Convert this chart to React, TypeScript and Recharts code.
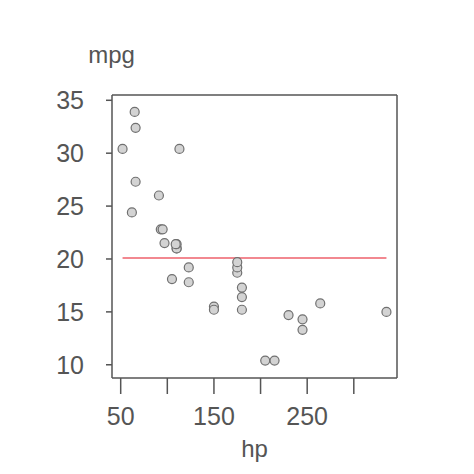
import React from 'react';
import { ScatterChart, Scatter, XAxis, YAxis, ReferenceLine } from 'recharts';

// mtcars: horsepower vs miles per gallon
const hp = [110, 110, 93, 110, 175, 105, 245, 62, 95, 123, 123, 180, 180, 180, 205, 215, 230, 66, 52, 65, 97, 150, 150, 245, 175, 66, 91, 113, 264, 175, 335, 109];
const mpg = [21.0, 21.0, 22.8, 21.4, 18.7, 18.1, 14.3, 24.4, 22.8, 19.2, 17.8, 16.4, 17.3, 15.2, 10.4, 10.4, 14.7, 32.4, 30.4, 33.9, 21.5, 15.5, 15.2, 13.3, 19.2, 27.3, 26.0, 30.4, 15.8, 19.7, 15.0, 21.4];
const xTicks = [50, 100, 150, 200, 250, 300];
const xLabelled = [50, 150, 250];
const yTicks = [10, 15, 20, 25, 30, 35];

const points = hp.map((h, i) => ({ hp: h, mpg: mpg[i] }));
const meanMpg = mpg.reduce((a, b) => a + b, 0) / mpg.length;

const axisColor = '#555555';
const textColor = '#555555';
const font = 'Liberation Sans, Arial, sans-serif';

const Dot = (props: any) => (
  <circle cx={props.cx} cy={props.cy} r={4.5} fill="#d3d3d3" stroke="#707070" strokeWidth={1.2} />
);

export default function App() {
  return (
    <div style={{ position: 'absolute', left: 0, top: 0, width: 474, height: 474, background: '#fff' }}>
      <ScatterChart width={474} height={474} margin={{ top: 94, right: 76, bottom: 0, left: 0 }}>
        <XAxis
          xAxisId="b"
          dataKey="hp"
          type="number"
          domain={[40.68, 346.32]}
          ticks={xTicks}
          tickFormatter={(v: number) => (xLabelled.includes(v) ? String(v) : '')}
          height={96}
          tickSize={16}
          tickMargin={13}
          axisLine={{ stroke: axisColor, strokeWidth: 1.5 }}
          tickLine={{ stroke: axisColor, strokeWidth: 1.5 }}
          tick={{ fill: textColor, fontSize: 25, fontFamily: font }}
          allowDataOverflow
          label={{
            content: () => (
              <text x={254.5} y={457} textAnchor="middle" fill={textColor} fontSize={24} fontFamily={font}>hp</text>
            ),
          }}
        />
        <XAxis xAxisId="t" type="number" orientation="top" domain={[40.68, 346.32]} height={1} tick={false} tickLine={false}
          axisLine={{ stroke: axisColor, strokeWidth: 1.5 }} allowDataOverflow />
        <YAxis
          yAxisId="l"
          dataKey="mpg"
          type="number"
          domain={[8.75, 35.5]}
          ticks={yTicks}
          width={112}
          tickSize={6}
          tickMargin={22}
          axisLine={{ stroke: axisColor, strokeWidth: 1.5 }}
          tickLine={{ stroke: axisColor, strokeWidth: 1.5 }}
          tick={{ fill: textColor, fontSize: 25, fontFamily: font }}
          allowDataOverflow
          label={{
            content: () => (
              <text x={111.5} y={63} textAnchor="middle" fill={textColor} fontSize={24} fontFamily={font}>mpg</text>
            ),
          }}
        />
        <YAxis yAxisId="r" type="number" orientation="right" domain={[8.75, 35.5]} width={1} tick={false} tickLine={false}
          axisLine={{ stroke: axisColor, strokeWidth: 1.5 }} allowDataOverflow />
        <Scatter data={points} xAxisId="b" yAxisId="l" shape={Dot} isAnimationActive={false} />
        <ReferenceLine
          xAxisId="b"
          yAxisId="l"
          segment={[{ x: Math.min(...hp), y: meanMpg }, { x: Math.max(...hp), y: meanMpg }]}
          stroke="#f28890"
          strokeWidth={2}
        />
      </ScatterChart>
    </div>
  );
}
